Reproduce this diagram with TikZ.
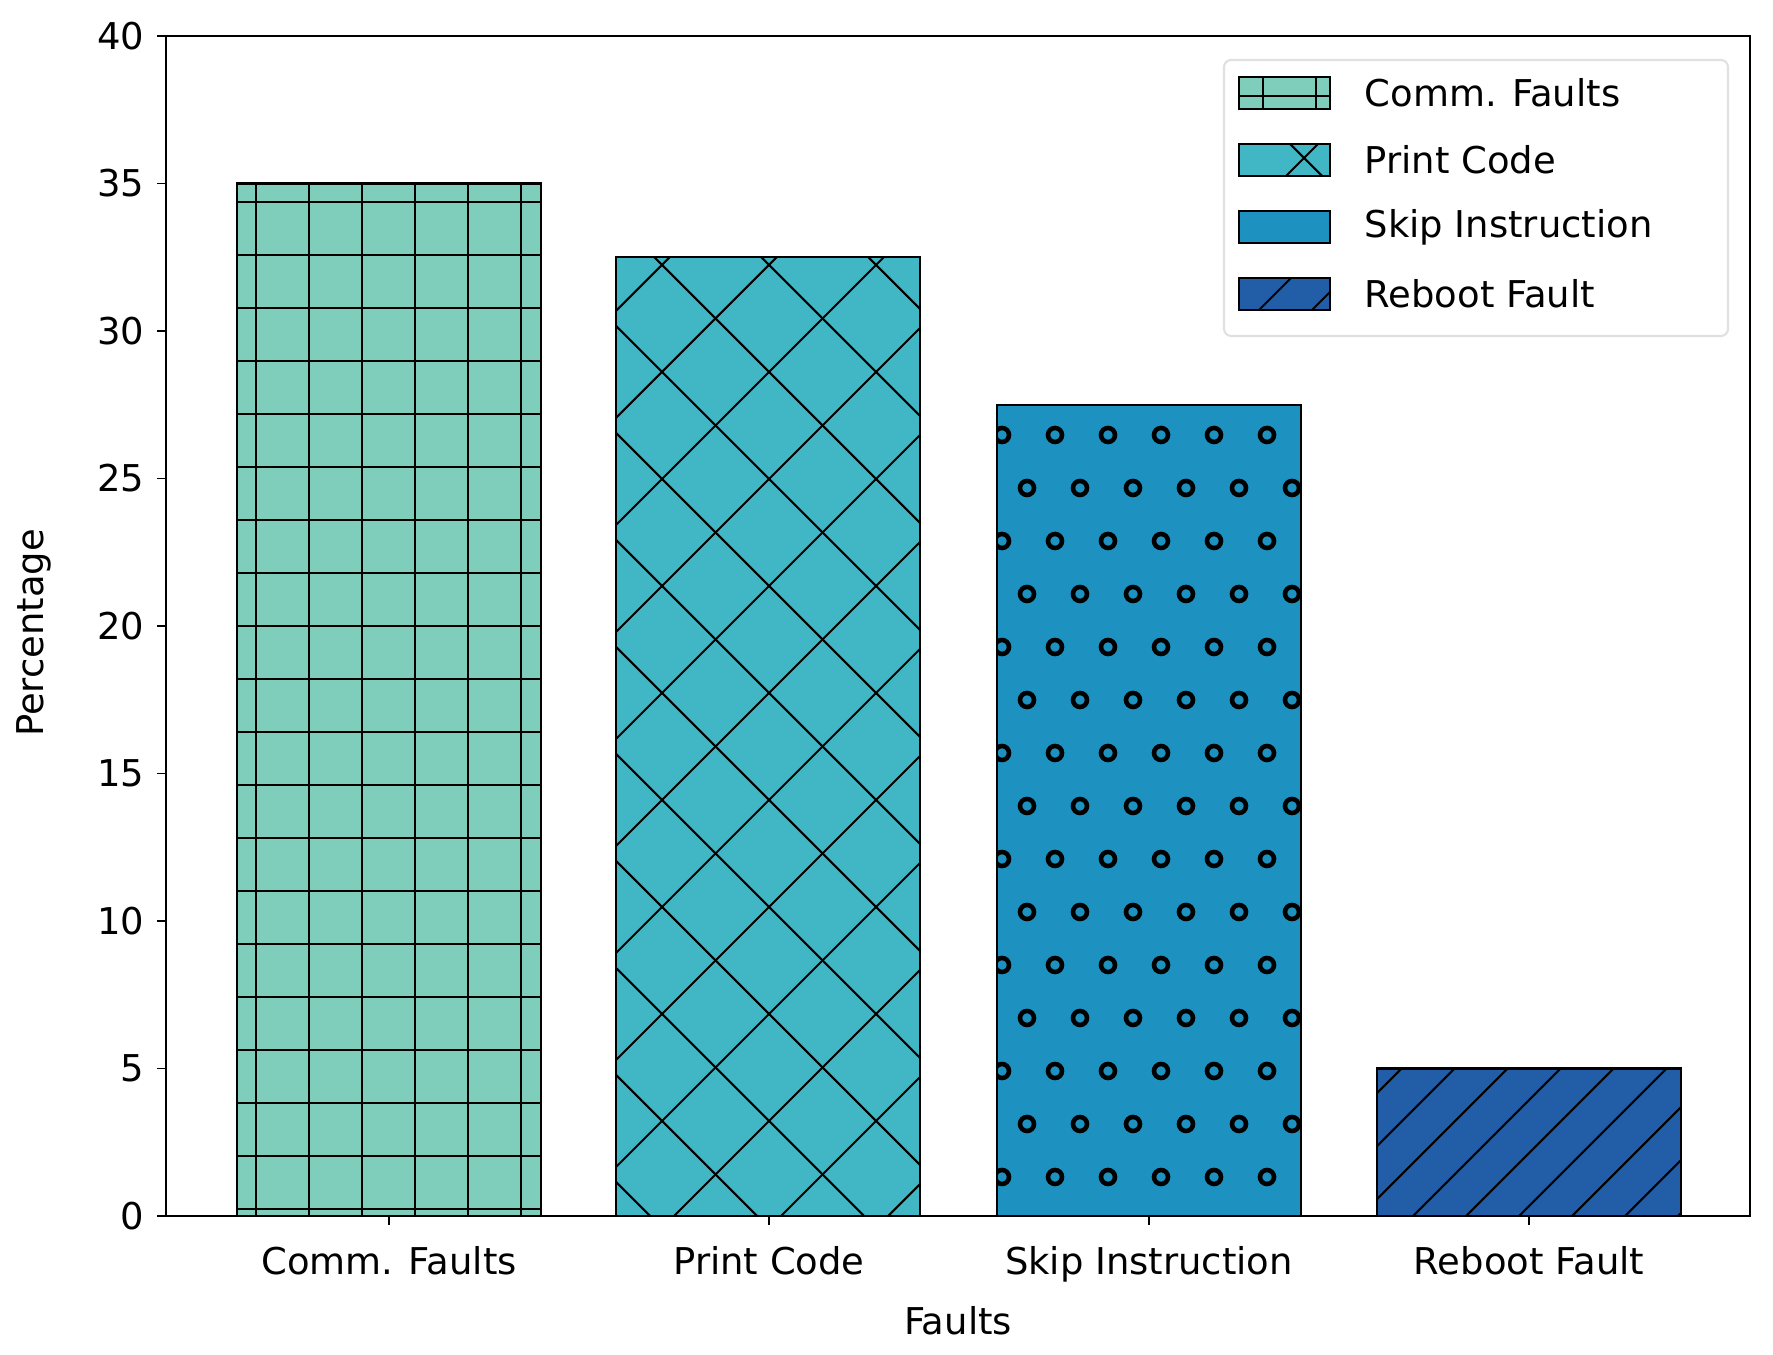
\documentclass[tikz,border=0pt]{standalone}
\usepackage{fontspec}
\setmainfont{DejaVu Sans}
\usetikzlibrary{positioning}
\definecolor{commc}{HTML}{7FCDBB}
\definecolor{printc}{HTML}{41B6C4}
\definecolor{skipc}{HTML}{1D91C0}
\definecolor{rebootc}{HTML}{225EA8}
\tikzset{
    bar/.style={draw=black, line width=0.65pt},
    hatch/.style={black, line width=0.6pt},
    tick/.style={line width=0.55pt},
    lbl/.style={font=\fontsize{10.5}{12}\selectfont, inner sep=0pt},
    legendbox/.style={draw=black!12, line width=0.6pt, rounded corners=2pt, fill=white}
}
% hatch macros: {x0}{y0}{x1}{y1}
\newcommand{\hgrid}[4]{\begin{scope}\clip (#1,#2) rectangle (#3,#4);
    \foreach \k in {0,...,40}{\draw[hatch] (256+53*\k-530,#2) -- (256+53*\k-530,#4);
        \draw[hatch] (#1,146+53*\k-530) -- (#3,146+53*\k-530);}\end{scope}}
\newcommand{\hcross}[4]{\begin{scope}\clip (#1,#2) rectangle (#3,#4);
    \foreach \k in {-20,...,30}{\draw[hatch] (107*\k,0) -- ++(1400,1400);
        \draw[hatch] (107*\k+40,0) -- ++(-1400,1400);}\end{scope}}
\newcommand{\hrings}[4]{\begin{scope}\clip (#1,#2) rectangle (#3,#4);
    \foreach \r in {0,...,24}{\pgfmathsetmacro{\off}{mod(\r,2)==0 ? 0 : -28}
        \foreach \k in {-1,...,34}{\draw[black, line width=1.3pt] (1055+\off+53*\k-530,920-53*\r) circle (7);}}\end{scope}}
\newcommand{\hslash}[4]{\begin{scope}\clip (#1,#2) rectangle (#3,#4);
    \foreach \k in {-30,...,30}{\draw[hatch] (1380+53*\k,0) -- ++(1400,1400);}\end{scope}}

\begin{document}
\begin{tikzpicture}[x=0.01cm, y=0.01cm]
    \useasboundingbox (0,0) rectangle (1773,1355);

    % bars
    \fill[commc] (237,139) rectangle (541,1171.5); \hgrid{237}{139}{541}{1171.5}
    \draw[bar] (237,139) rectangle (541,1171.5);
    \fill[printc] (616,139) rectangle (920,1097.8); \hcross{616}{139}{920}{1097.8}
    \draw[bar] (616,139) rectangle (920,1097.8);
    \fill[skipc] (997,139) rectangle (1301,950.3); \hrings{997}{139}{1301}{950.3}
    \draw[bar] (997,139) rectangle (1301,950.3);
    \fill[rebootc] (1377,139) rectangle (1681,286.5); \hslash{1377}{139}{1681}{286.5}
    \draw[bar] (1377,139) rectangle (1681,286.5);

    % axes frame
    \draw[line width=0.65pt] (166,139) rectangle (1750,1319);

    % y ticks
    \foreach \v in {0,5,...,40}{
        \draw[tick] (166,139+29.5*\v) -- ++(-9,0);
        \node[lbl, anchor=east] (y\v) at (145,139+29.5*\v) {\v};
    }

    % x ticks
    \foreach \i/\t in {0/Comm. Faults,1/Print Code,2/Skip Instruction,3/Reboot Fault}{
        \draw[tick] (389+380*\i,139) -- ++(0,-9);
        \node[lbl, anchor=base] (x\i) at (389+380*\i,80) {\t};
    }

    % axis labels
    \node[lbl, anchor=base] (xlab) at (958,20) {Faults};
    \node[lbl, rotate=90, anchor=center] (ylab) at (34,722) {Percentage};

    % legend
    \draw[legendbox] (1224,1019) rectangle (1728,1295);
    \fill[commc] (1239,1246) rectangle (1330,1278); \hgrid{1239}{1246}{1330}{1278}
    \draw[bar] (1239,1246) rectangle (1330,1278);
    \fill[printc] (1239,1179) rectangle (1330,1211); \hcross{1239}{1179}{1330}{1211}
    \draw[bar] (1239,1179) rectangle (1330,1211);
    \fill[skipc] (1239,1112) rectangle (1330,1144); \hrings{1239}{1112}{1330}{1144}
    \draw[bar] (1239,1112) rectangle (1330,1144);
    \fill[rebootc] (1239,1045) rectangle (1330,1077); \hslash{1239}{1045}{1330}{1077}
    \draw[bar] (1239,1045) rectangle (1330,1077);
    \node[lbl, anchor=west] (lcomm) at (1364,1262) {Comm. Faults};
    \node[lbl, anchor=west] (lprint) at (1364,1195) {Print Code};
    \node[lbl, anchor=west] (lskip) at (1364,1128) {Skip Instruction};
    \node[lbl, anchor=west] (lreboot) at (1364,1061) {Reboot Fault};
\end{tikzpicture}
\end{document}
